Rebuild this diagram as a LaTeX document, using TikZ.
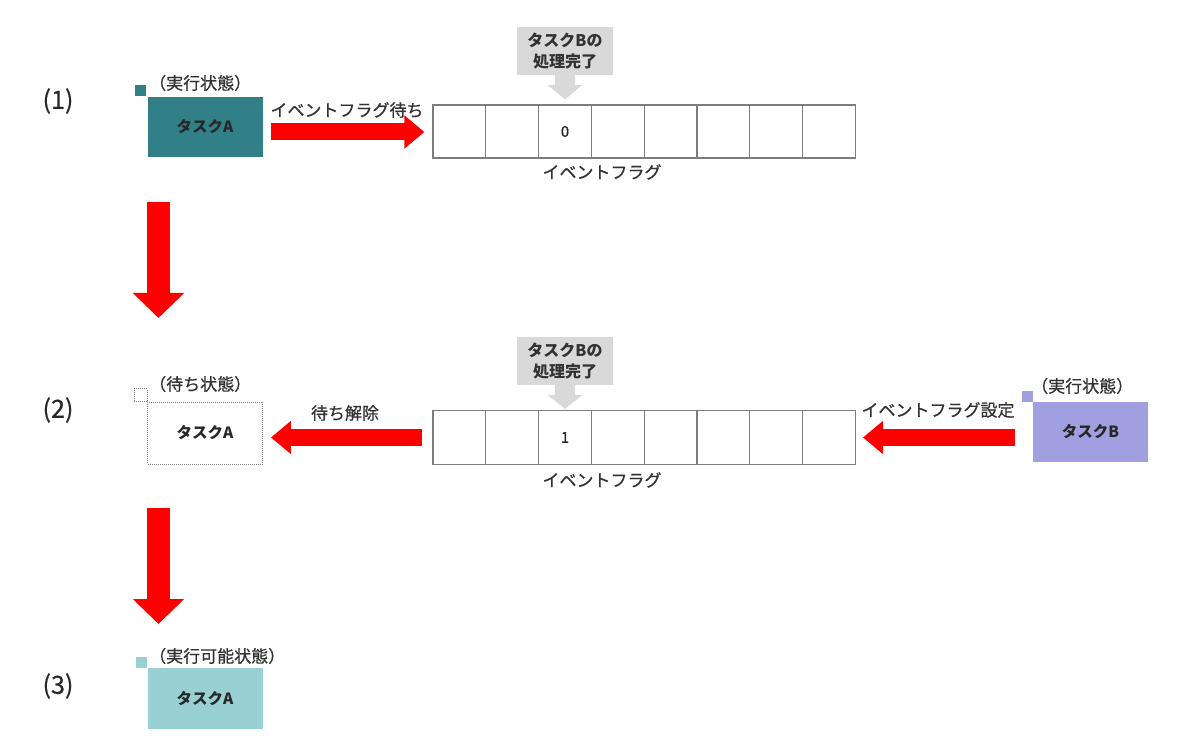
\documentclass[tikz,border=0pt]{standalone}
\usepackage{fontspec}
\newfontfamily\cjk{Noto Sans CJK JP}
\newfontfamily\cjkm[FakeBold=0.6]{Noto Sans CJK JP}
\usetikzlibrary{arrows.meta,calc}
\definecolor{tealdark}{RGB}{49,128,135}
\definecolor{teallight}{RGB}{152,208,212}
\definecolor{lavender}{RGB}{160,160,224}
\definecolor{callgray}{RGB}{217,217,217}
\definecolor{flaggray}{RGB}{125,125,125}
\definecolor{txtgray}{RGB}{50,50,50}
\definecolor{taskgray}{RGB}{40,40,40}
\begin{document}
\begin{tikzpicture}[x=1pt,y=-1pt,
  txt/.style={font=\cjkm\fontsize{17}{20}\selectfont, text=txtgray, inner sep=0},
  rowlbl/.style={font=\cjkm\fontsize{25}{28}\selectfont, text=taskgray, inner sep=0},
  task/.style={minimum width=115, minimum height=60, inner sep=0, font=\cjk\bfseries\fontsize{15.5}{18}\selectfont, text=taskgray},
  sq/.style={minimum size=11, inner sep=0},
  cell/.style={draw=flaggray, line width=1.2, minimum width=52.8, minimum height=53, inner sep=0},
  val/.style={font=\cjkm\fontsize{15}{17}\selectfont, text=taskgray, inner sep=0},
  callout/.style={fill=callgray, minimum width=96, minimum height=48, inner sep=0, align=center, font=\cjk\bfseries\fontsize{16}{21}\selectfont, text=txtgray},
  redarrow/.style={draw=red, line width=17, -{Triangle[length=20pt,width=32pt]}},
  downarrow/.style={draw=red, line width=23, -{Triangle[length=25pt,width=50pt]}},
  dotbox/.style={draw=gray, line width=0.9, dash pattern=on 1pt off 1pt}
]
\useasboundingbox (0,0) rectangle (1200,746);

% row labels
\node[rowlbl] (r1) at (58,101) {(1)};
\node[rowlbl] (r2) at (58,410) {(2)};
\node[rowlbl] (r3) at (58,686) {(3)};

% ---------- row 1 ----------
\node[task, fill=tealdark] (ta1) at (205,127) {タスクA};
\node[sq, fill=tealdark] (sq1) at (140.5,91) {};
\node[txt, anchor=west] (st1) at (149,83) {（実行状態）};

\foreach \i in {1,...,8}
  \node[cell] (fa\i) at ({433+52.8*(\i-0.5)},131.5) {};
\node[val] (v1) at (fa3) {0};
\node[txt] (fl1) at (602,172) {イベントフラグ};

\node[callout] (cb1) at (565,51) {タスクBの\\処理完了};
\fill[callgray] ($(cb1.south)+(-10,0)$) -- ++(0,10) -- ++(-7,0) -- ($(fa3.north)+(0,-5)$)
  -- ($(cb1.south)+(17,10)$) -- ++(-7,0) -- ($(cb1.south)+(10,0)$) -- cycle;

\draw[redarrow, shorten <=8, shorten >=8] ($(ta1.east)+(0,5)$) -- ($(fa1.west)+(0,0.5)$);
\node[txt] (wl1) at (347,110) {イベントフラグ待ち};

% vertical arrow 1
\coordinate (d1s) at (158.5,202);
\coordinate (d1e) at (158.5,318);
\draw[downarrow] (d1s) -- (d1e);

% ---------- row 2 ----------
\node[task, dotbox, minimum height=62] (ta2) at (205,433) {タスクA};
\node[sq, dotbox, minimum size=13] (sq2) at (140.5,395) {};
\node[txt, anchor=west] (st2) at (149,384) {（待ち状態）};

\foreach \i in {1,...,8}
  \node[cell, minimum height=54] (fb\i) at ({433+52.8*(\i-0.5)},437.5) {};
\node[val] (v2) at (fb3) {1};
\node[txt] (fl2) at (602,480) {イベントフラグ};

\node[callout] (cb2) at (565,361) {タスクBの\\処理完了};
\fill[callgray] ($(cb2.south)+(-10,0)$) -- ++(0,10) -- ++(-7,0) -- ($(fb3.north)+(0,-1)$)
  -- ($(cb2.south)+(17,10)$) -- ++(-7,0) -- ($(cb2.south)+(10,0)$) -- cycle;

\node[task, fill=lavender] (tb) at (1090.5,432) {タスクB};
\node[sq, fill=lavender] (sqb) at (1027.5,396) {};
\node[txt, anchor=west] (stb) at (1031,386) {（実行状態）};

\draw[redarrow, shorten <=10, shorten >=8] (fb1.west) -- (ta2.east |- fb1.west);
\node[txt] (wl2) at (345,413) {待ち解除};

\draw[redarrow, shorten <=18, shorten >=7] ($(tb.west)+(0,5.5)$) -- (fb8.east);
\node[txt] (wl3) at (938,410) {イベントフラグ設定};

% vertical arrow 2
\coordinate (d2s) at (158.5,508);
\coordinate (d2e) at (158.5,624);
\draw[downarrow] (d2s) -- (d2e);

% ---------- row 3 ----------
\node[task, fill=teallight, minimum height=61] (ta3) at (205,698.5) {タスクA};
\node[sq, fill=teallight] (sq3) at (141,662.5) {};
\node[txt, anchor=west] (st3) at (149,656) {（実行可能状態）};
\end{tikzpicture}
\end{document}
